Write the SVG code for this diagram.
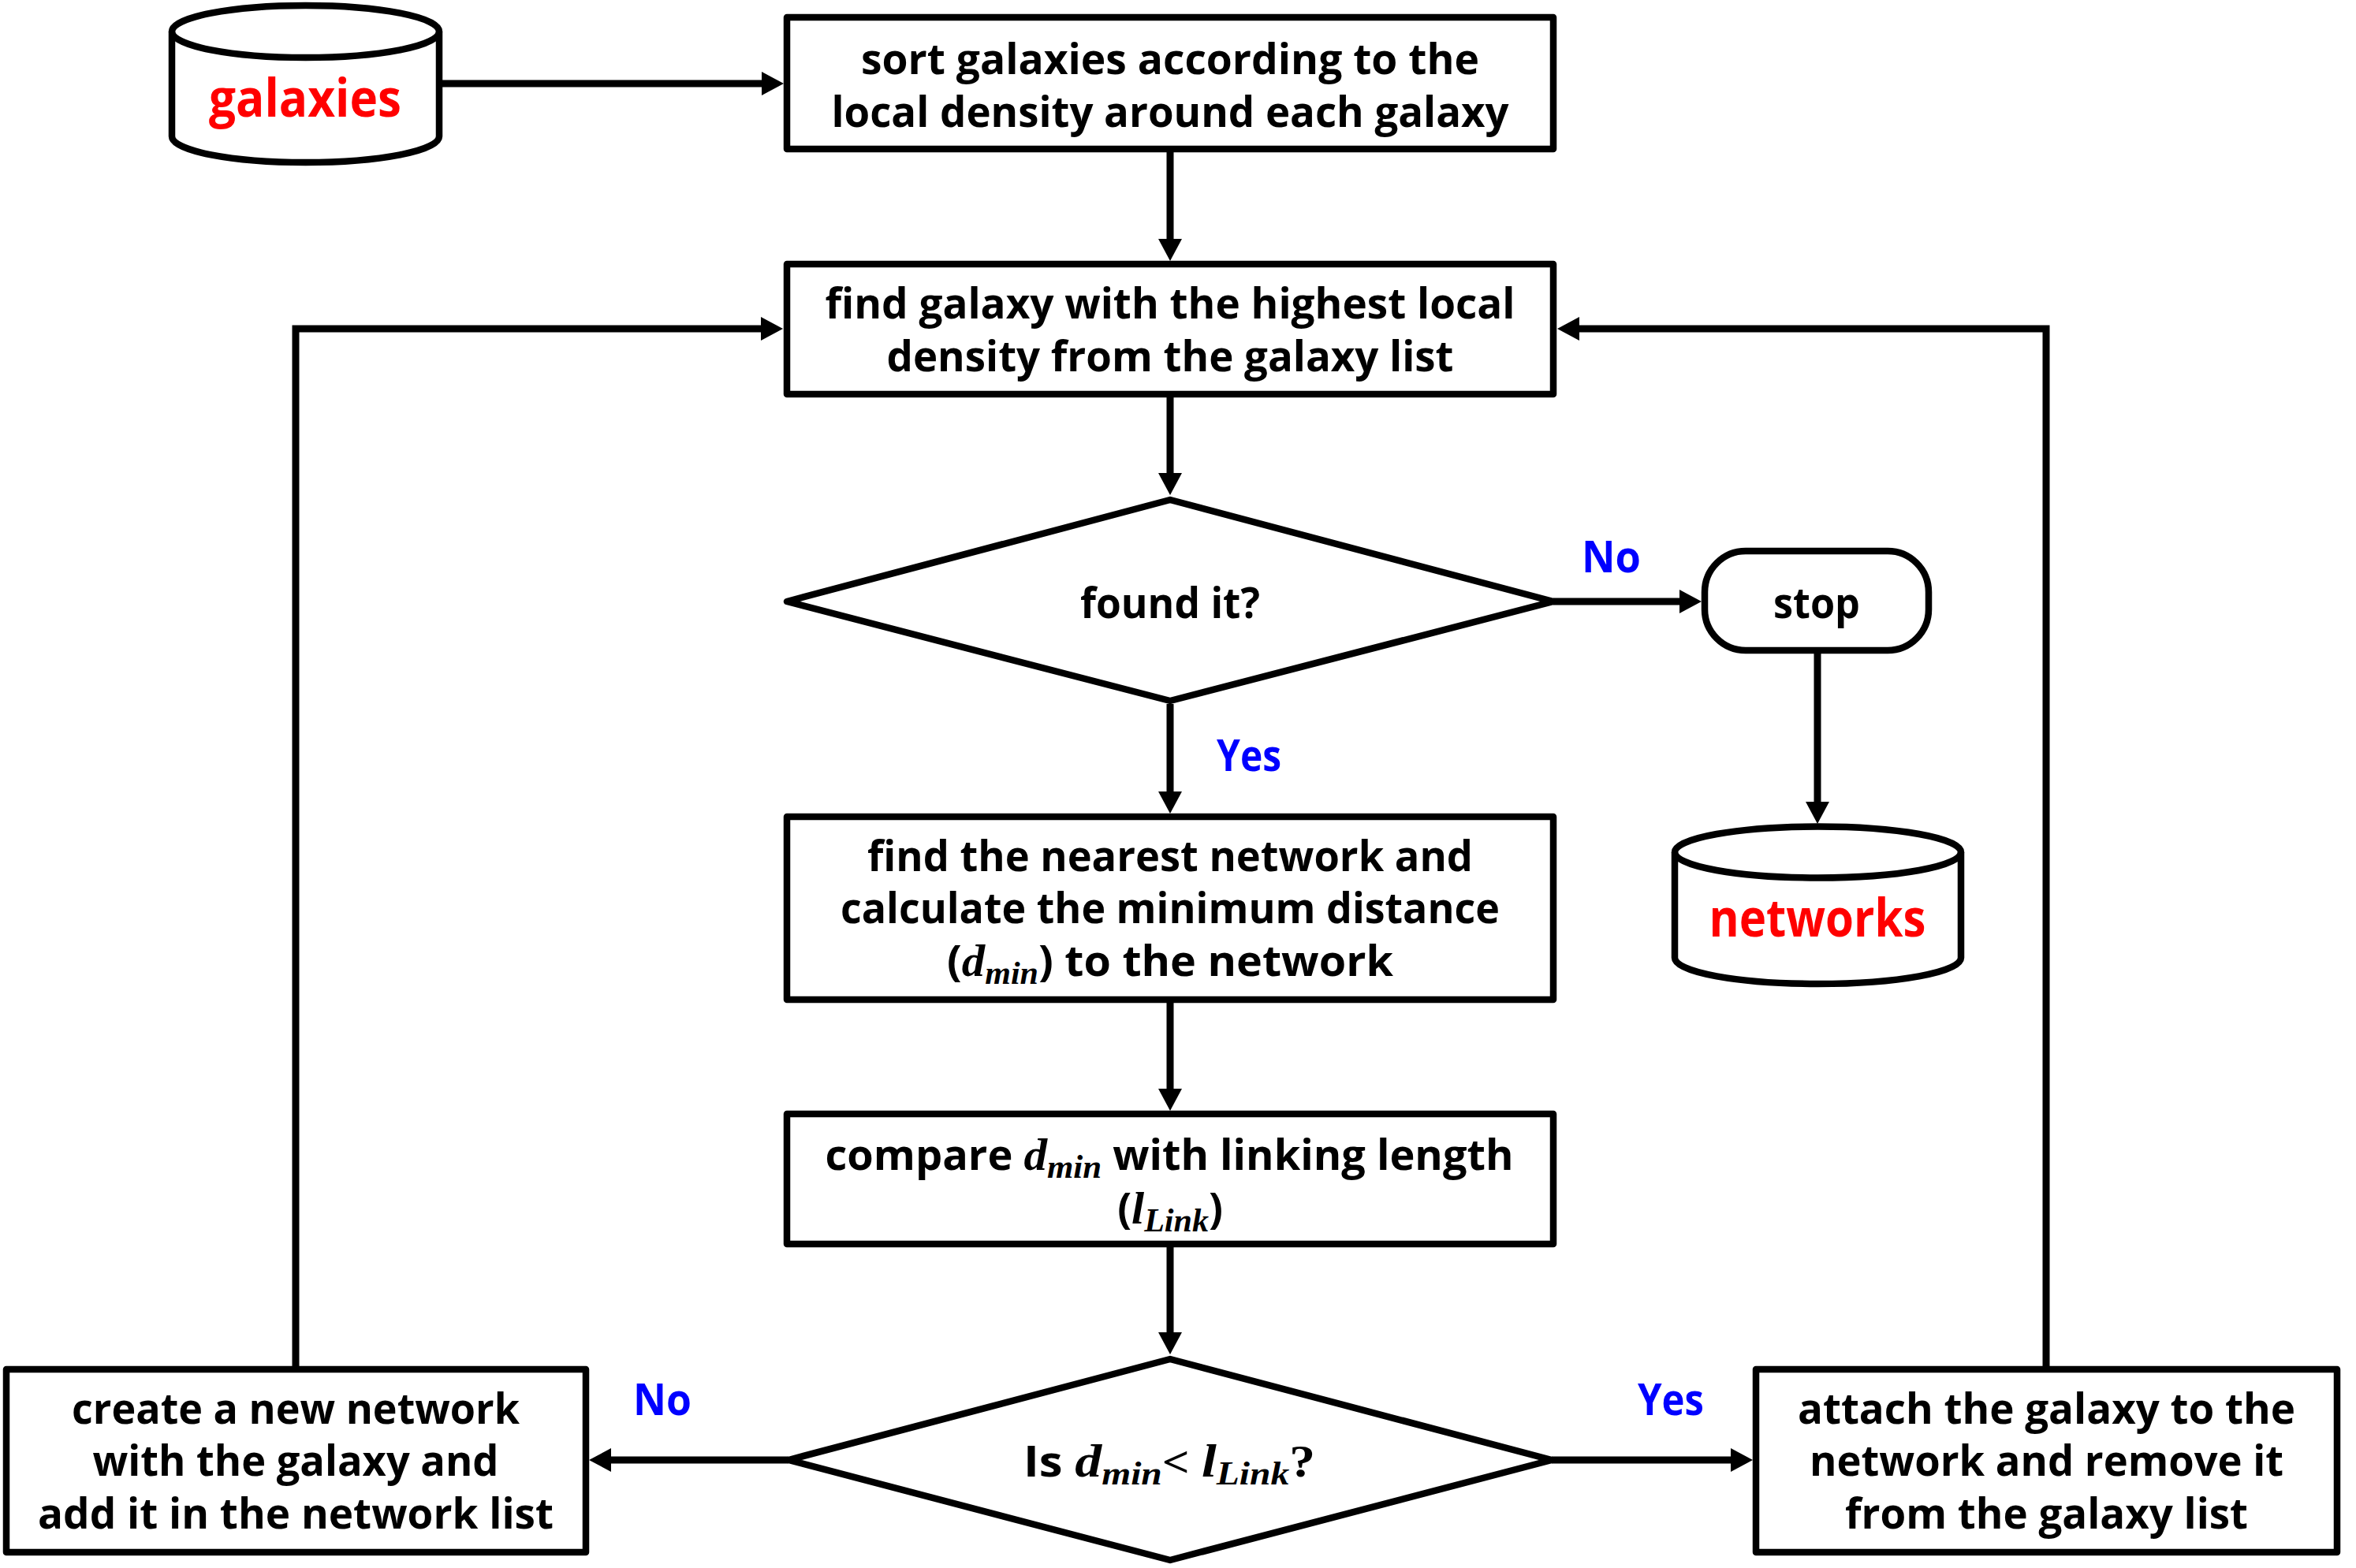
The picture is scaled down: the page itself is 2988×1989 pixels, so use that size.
<svg xmlns="http://www.w3.org/2000/svg" width="2988" height="1989" viewBox="0 0 2988 1989">
<defs>
<style>
.shape{fill:#fff;stroke:#000;stroke-width:8.5;stroke-linejoin:round}
.line{fill:none;stroke:#000;stroke-width:9;marker-end:url(#arr)}
.t{font-family:"Open Sans","Noto Sans","DejaVu Sans",sans-serif;font-weight:700;font-size:53px;fill:#000;text-anchor:middle}
.m{font-family:"Liberation Serif","DejaVu Serif",serif;font-style:italic;font-weight:700}
.ms{font-family:"Liberation Serif","DejaVu Serif",serif;font-weight:700}
.red{fill:#ff0000;font-size:66px}
.blue{fill:#0000ff;font-size:56px;text-anchor:start}
</style>
<marker id="arr" markerUnits="userSpaceOnUse" markerWidth="30" markerHeight="30" refX="8" refY="15" orient="auto">
<path d="M0,0 L28,15 L0,30 Z" fill="#000"/>
</marker>
</defs>
<rect width="2988" height="1989" fill="#fff"/>

<g id="connectors">
<path class="line" d="M561,106 H974"/>
<path class="line" d="M1484,193 V311"/>
<path class="line" d="M1484,504 V608"/>
<path class="line" d="M1484,893 V1012"/>
<path class="line" d="M1484,1272 V1389"/>
<path class="line" d="M1484,1582 V1698"/>
<path class="line" d="M1000,1852 H767"/>
<path class="line" d="M1968,1852 H2203"/>
<path class="line" d="M375,1733 V417 H973"/>
<path class="line" d="M2595,1733 V417 H1995"/>
<path class="line" d="M1970,763 H2138"/>
<path class="line" d="M2305,829 V1025"/>
</g>

<g id="galaxies">
<path class="shape" d="M218,40 A169.5,33 0 0 1 557,40 V173 A169.5,33 0 0 1 218,173 Z"/>
<path class="shape" style="fill:none" d="M218,40 A169.5,33 0 0 0 557,40"/>
<text class="t red" x="387" y="148" textLength="244" lengthAdjust="spacingAndGlyphs">galaxies</text>
</g>

<g id="sort">
<rect class="shape" x="998" y="22" width="972" height="167"/>
<text class="t" x="1484" y="94" textLength="784" lengthAdjust="spacingAndGlyphs">sort galaxies according to the</text>
<text class="t" x="1484" y="161" textLength="859" lengthAdjust="spacingAndGlyphs">local density around each galaxy</text>
</g>

<g id="find">
<rect class="shape" x="998" y="335" width="972" height="165"/>
<text class="t" x="1484" y="404" textLength="875" lengthAdjust="spacingAndGlyphs">find galaxy with the highest local</text>
<text class="t" x="1484" y="471" textLength="719" lengthAdjust="spacingAndGlyphs">density from the galaxy list</text>
</g>

<g id="found">
<path class="shape" d="M998,763 L1484,634 L1970,763 L1484,889 Z"/>
<text class="t" x="1484" y="784" textLength="228" lengthAdjust="spacingAndGlyphs">found it?</text>
</g>

<g id="stop">
<rect class="shape" x="2162" y="699" width="284" height="126" rx="52" ry="52"/>
<text class="t" x="2304" y="784" textLength="110" lengthAdjust="spacingAndGlyphs">stop</text>
</g>

<g id="networks">
<path class="shape" d="M2124,1081 A181.5,32.5 0 0 1 2487,1081 V1215 A181.5,33 0 0 1 2124,1215 Z"/>
<path class="shape" style="fill:none" d="M2124,1081 A181.5,32.5 0 0 0 2487,1081"/>
<text class="t red" x="2305" y="1188" textLength="275" lengthAdjust="spacingAndGlyphs">networks</text>
</g>

<g id="nearest">
<rect class="shape" x="998" y="1036" width="972" height="232"/>
<text class="t" x="1484" y="1105" textLength="768" lengthAdjust="spacingAndGlyphs">find the nearest network and</text>
<text class="t" x="1484" y="1171" textLength="836" lengthAdjust="spacingAndGlyphs">calculate the minimum distance</text>
<text class="t" x="1484" y="1238" textLength="566" lengthAdjust="spacingAndGlyphs">(<tspan class="m" font-size="56">d</tspan><tspan class="m" font-size="40" dy="10">min</tspan><tspan dy="-10">) to the network</tspan></text>
</g>

<g id="compare">
<rect class="shape" x="998" y="1413" width="972" height="165"/>
<text class="t" x="1483" y="1484" textLength="873" lengthAdjust="spacingAndGlyphs">compare <tspan class="m" font-size="58">d</tspan><tspan class="m" font-size="42" dy="10">min</tspan><tspan dy="-10"> with linking length</tspan></text>
<text class="t" x="1484" y="1552">(<tspan class="m" font-size="58">l</tspan><tspan class="m" font-size="42" dy="10">Link</tspan><tspan dy="-10">)</tspan></text>
</g>

<g id="decision">
<path class="shape" d="M1000,1852 L1484,1724 L1968,1852 L1484,1979 Z"/>
<text class="t" x="1483" y="1873" textLength="370" lengthAdjust="spacingAndGlyphs">Is <tspan class="m" font-size="60">d</tspan><tspan class="m" font-size="42" dy="10">min</tspan><tspan class="ms" font-size="54" dy="-10">&lt; </tspan><tspan class="m" font-size="60">l</tspan><tspan class="m" font-size="42" dy="10">Link</tspan><tspan class="ms" font-size="58" dy="-10">?</tspan></text>
</g>

<g id="create">
<rect class="shape" x="8" y="1737" width="735" height="232"/>
<text class="t" x="375" y="1806" textLength="568" lengthAdjust="spacingAndGlyphs">create a new network</text>
<text class="t" x="375" y="1872" textLength="515" lengthAdjust="spacingAndGlyphs">with the galaxy and</text>
<text class="t" x="375" y="1939" textLength="654" lengthAdjust="spacingAndGlyphs">add it in the network list</text>
</g>

<g id="attach">
<rect class="shape" x="2227" y="1737" width="737" height="232"/>
<text class="t" x="2595.5" y="1806" textLength="631" lengthAdjust="spacingAndGlyphs">attach the galaxy to the</text>
<text class="t" x="2595.5" y="1872" textLength="601" lengthAdjust="spacingAndGlyphs">network and remove it</text>
<text class="t" x="2595.5" y="1939" textLength="511" lengthAdjust="spacingAndGlyphs">from the galaxy list</text>
</g>

<g id="labels">
<text class="t blue" x="2006" y="726" textLength="75" lengthAdjust="spacingAndGlyphs">No</text>
<text class="t blue" x="1543" y="978" textLength="82" lengthAdjust="spacingAndGlyphs">Yes</text>
<text class="t blue" x="803" y="1795" textLength="74" lengthAdjust="spacingAndGlyphs">No</text>
<text class="t blue" x="2077" y="1795" textLength="84" lengthAdjust="spacingAndGlyphs">Yes</text>
</g>
</svg>
